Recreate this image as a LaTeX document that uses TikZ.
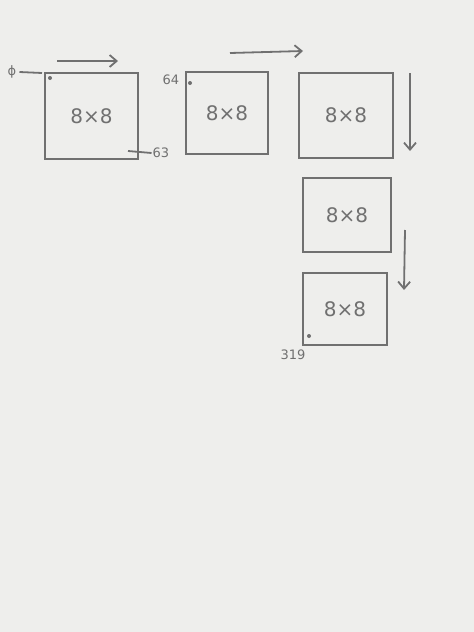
\documentclass[tikz,border=0pt]{standalone}
\usepackage{fontspec}
\setmainfont{DejaVu Sans}
\usetikzlibrary{arrows.meta}
\definecolor{paper}{HTML}{EEEEEC}
\definecolor{pencil}{HTML}{707070}
\begin{document}
\begin{tikzpicture}[x=1pt,y=-1pt,
  blk/.style={draw=pencil,line width=2pt,anchor=north west,inner sep=0pt,text=pencil,font=\fontsize{20}{20}\selectfont},
  lbl/.style={text=pencil,font=\fontsize{13}{13}\selectfont,inner sep=1pt},
  pen/.style={draw=pencil,line width=1.8pt},
  arr/.style={pen,-{Straight Barb[length=7pt,width=12pt]}},
  dot/.style={circle,fill=pencil,inner sep=0pt,minimum size=4pt}]
\fill[paper] (0,0) rectangle (474,632);
\useasboundingbox (0,0) rectangle (474,632);
% boxes
\node[blk,minimum width=93pt,minimum height=86pt] (b1) at (44,72) {8×8};
\node[blk,minimum width=82pt,minimum height=82pt] (b2) at (185,71) {8×8};
\node[blk,minimum width=94pt,minimum height=85pt] (b3) at (298,72) {8×8};
\node[blk,minimum width=88pt,minimum height=74pt] (b4) at (302,177) {8×8};
\node[blk,minimum width=84pt,minimum height=72pt] (b5) at (302,272) {8×8};
% dots
\node[dot] (d1) at (50,78) {};
\node[dot] (d2) at (190,83) {};
\node[dot] (d5) at (309,336) {};
\coordinate (d63) at (128,151);
% labels
\node[lbl] (l0) at (12,72) {ϕ};
\node[lbl] (l63) at (161,153) {63};
\node[lbl] (l64) at (171,80) {64};
\node[lbl] (l319) at (293,355) {319};
\draw[pen] (l0.east) ++(2,0) coordinate (l0e) -- (42,73);
\draw[pen] (l63.west) -- (d63);
% arrows
\coordinate (a1s) at (57,61); \coordinate (a1e) at (118,61);
\coordinate (a2s) at (230,53); \coordinate (a2e) at (303,51);
\coordinate (a3s) at (410,73); \coordinate (a3e) at (410,151);
\coordinate (a4s) at (405,230); \coordinate (a4e) at (404,290);
\draw[arr] (a1s) -- (a1e);
\draw[arr] (a2s) -- (a2e);
\draw[arr] (a3s) -- (a3e);
\draw[arr] (a4s) -- (a4e);
\end{tikzpicture}
\end{document}
